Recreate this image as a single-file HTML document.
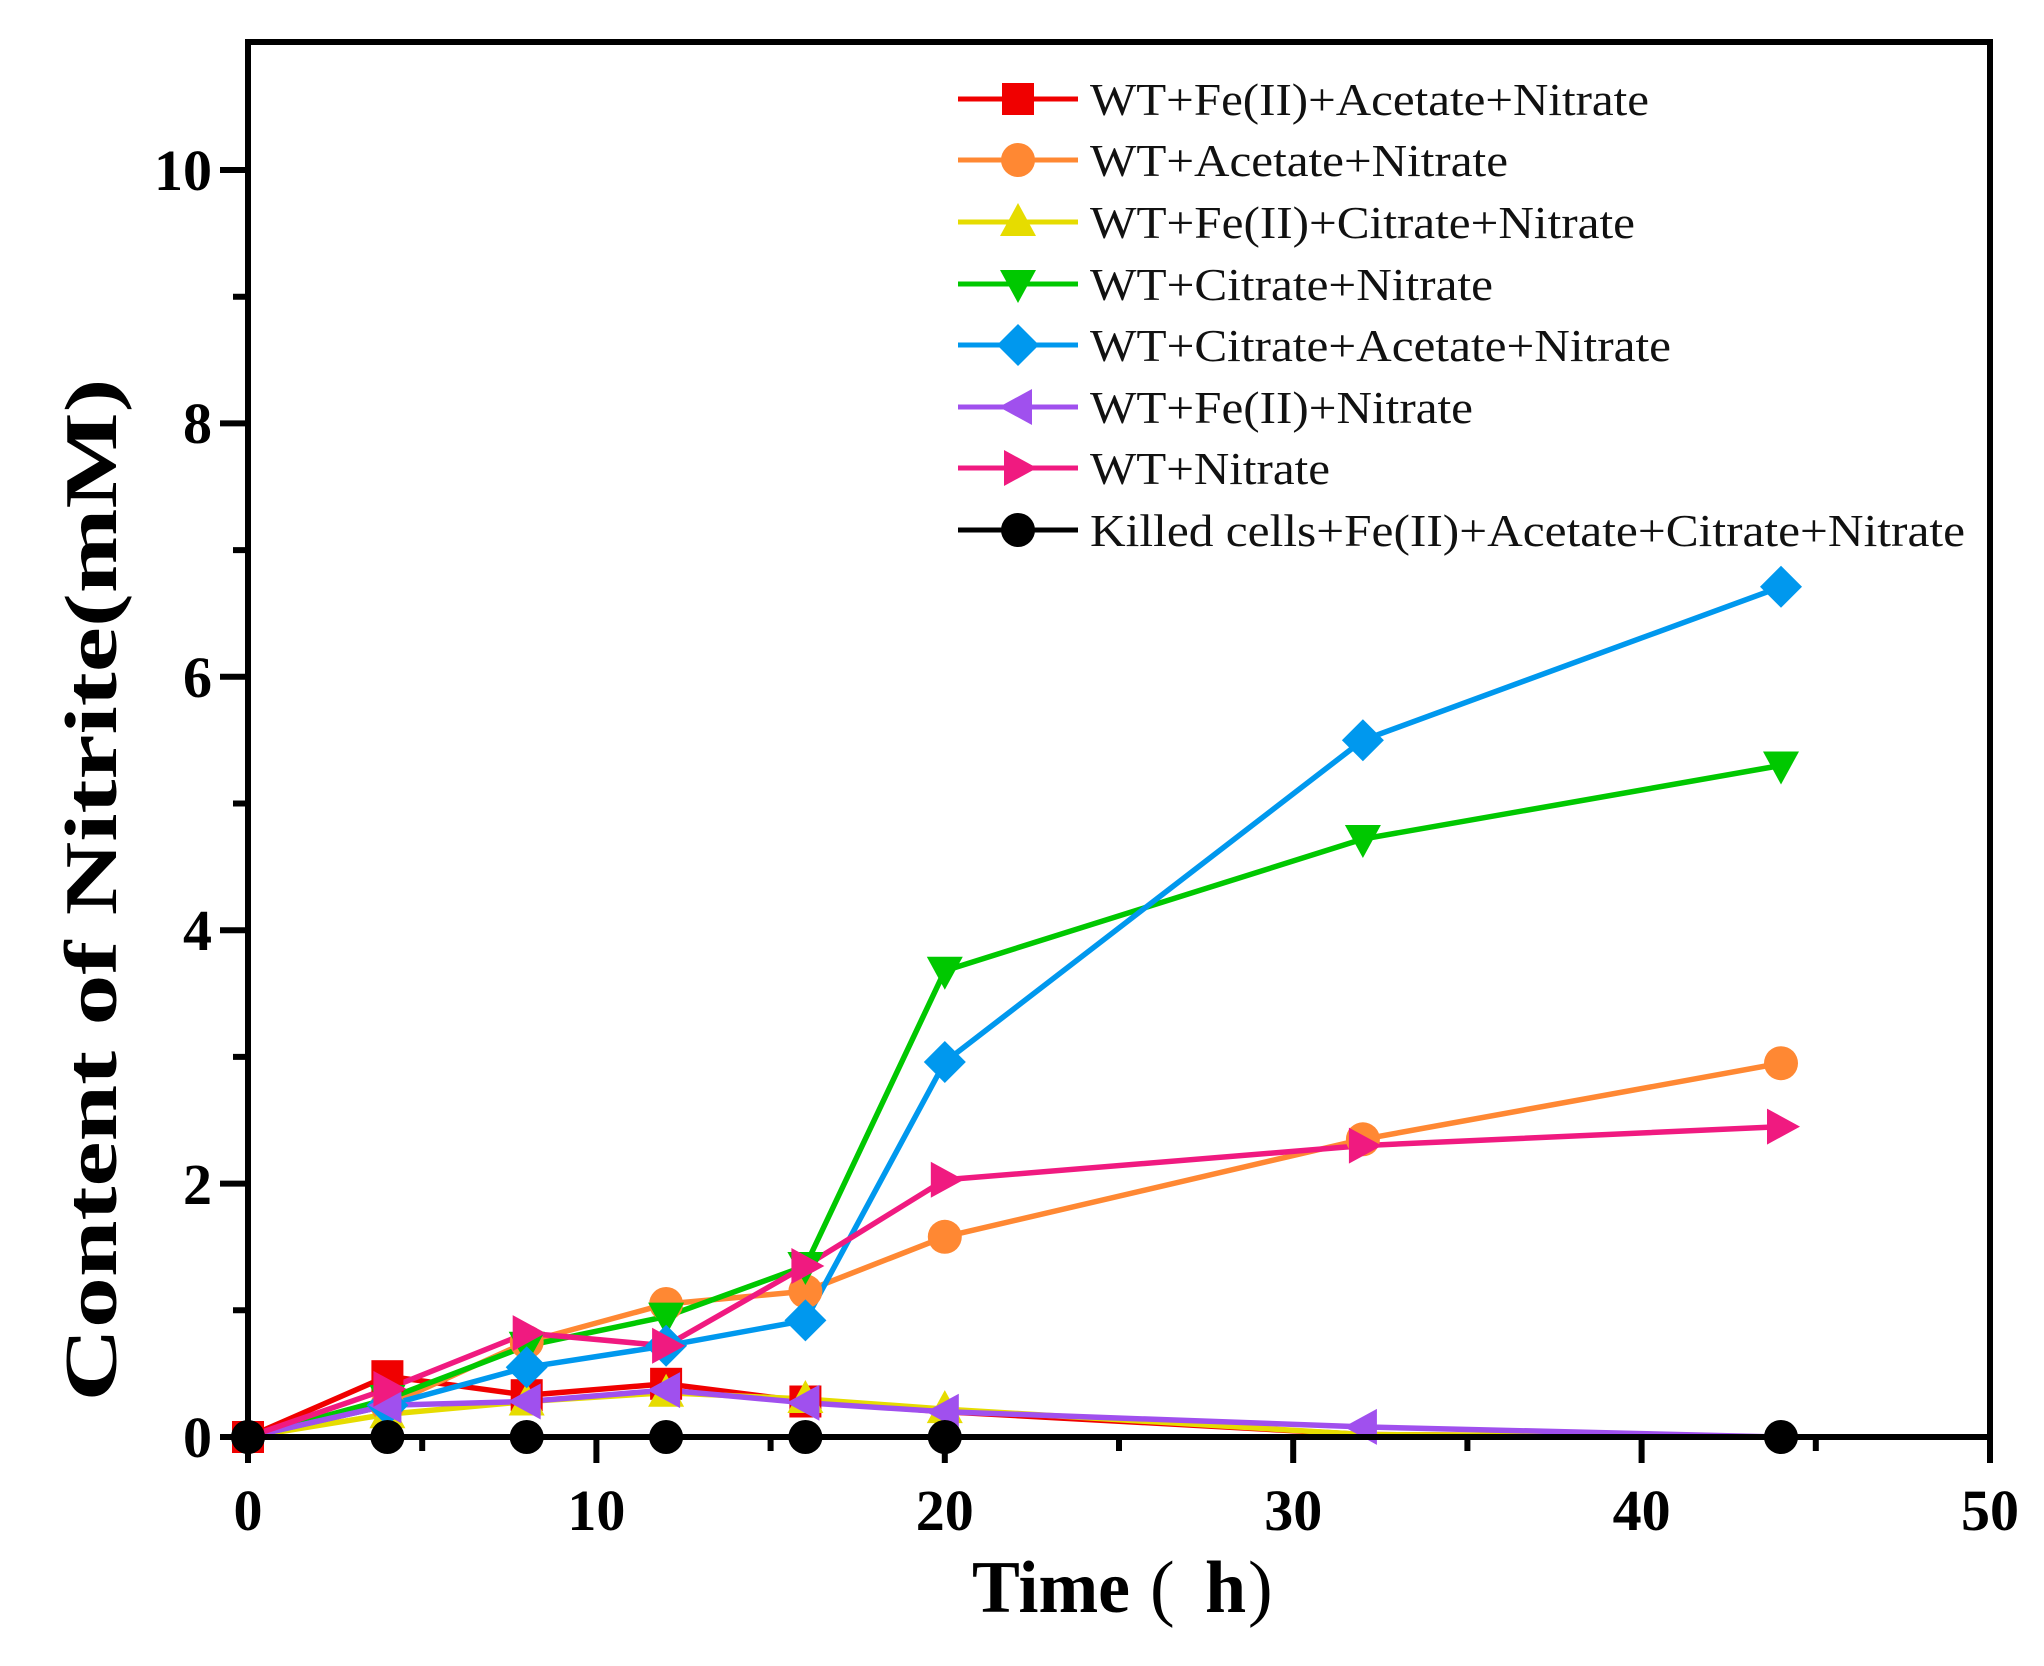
<!DOCTYPE html>
<html><head><meta charset="utf-8"><style>html,body{margin:0;padding:0;background:#fff}svg{display:block}</style></head>
<body>
<svg width="2044" height="1666" viewBox="0 0 2044 1666" xmlns="http://www.w3.org/2000/svg" font-family="'Liberation Serif', serif">
<defs>
<rect id="sq" x="-16" y="-16" width="32" height="32"/>
<circle id="ci" r="17"/>
<polygon id="tu" points="0,-19 18,14 -18,14"/>
<polygon id="td" points="0,19 18,-14 -18,-14"/>
<polygon id="di" points="0,-21 21,0 0,21 -21,0"/>
<polygon id="tl" points="-19,0 14,-18 14,18"/>
<polygon id="tr" points="19,0 -14,-18 -14,18"/>
</defs>
<g fill="none" stroke-width="5.5" stroke-linejoin="round">
<polyline stroke="#f00000" points="248,1437 387.4,1376.2 526.7,1395.2 666.1,1383.8 805.4,1401.5 944.8,1411.7 1362.9,1434.5 1781,1437"/>
<polyline stroke="#ff8833" points="248,1437 387.4,1405.3 526.7,1342 666.1,1304 805.4,1291.3 944.8,1236.8 1362.9,1139.3 1781,1063.2"/>
<polyline stroke="#e6dc00" points="248,1437 387.4,1414.2 526.7,1401.5 666.1,1392.7 805.4,1399 944.8,1409.1 1362.9,1434.5 1781,1437"/>
<polyline stroke="#00c800" points="248,1437 387.4,1399 526.7,1345.8 666.1,1316.6 805.4,1266 944.8,970.7 1362.9,839 1781,765.5"/>
<polyline stroke="#0098ee" points="248,1437 387.4,1405.3 526.7,1367.3 666.1,1345.8 805.4,1320.4 944.8,1062 1362.9,740.2 1781,586.8"/>
<polyline stroke="#a050ee" points="248,1437 387.4,1405.3 526.7,1401.5 666.1,1390.1 805.4,1402.8 944.8,1411.7 1362.9,1426.9 1781,1437"/>
<polyline stroke="#f01a80" points="248,1437 387.4,1388.9 526.7,1333.1 666.1,1345.8 805.4,1266 944.8,1179.8 1362.9,1145.6 1781,1126.6"/>
</g>
<g fill="#f00000"><use href="#sq" x="248" y="1437"/><use href="#sq" x="387.4" y="1376.2"/><use href="#sq" x="526.7" y="1395.2"/><use href="#sq" x="666.1" y="1383.8"/><use href="#sq" x="805.4" y="1401.5"/></g>
<g fill="#ff8833"><use href="#ci" x="387.4" y="1405.3"/><use href="#ci" x="526.7" y="1342"/><use href="#ci" x="666.1" y="1304"/><use href="#ci" x="805.4" y="1291.3"/><use href="#ci" x="944.8" y="1236.8"/><use href="#ci" x="1362.9" y="1139.3"/><use href="#ci" x="1781" y="1063.2"/></g>
<g fill="#e6dc00"><use href="#tu" x="387.4" y="1414.2"/><use href="#tu" x="526.7" y="1401.5"/><use href="#tu" x="666.1" y="1392.7"/><use href="#tu" x="805.4" y="1399"/><use href="#tu" x="944.8" y="1409.1"/></g>
<g fill="#00c800"><use href="#td" x="387.4" y="1399"/><use href="#td" x="526.7" y="1345.8"/><use href="#td" x="666.1" y="1316.6"/><use href="#td" x="805.4" y="1266"/><use href="#td" x="944.8" y="970.7"/><use href="#td" x="1362.9" y="839"/><use href="#td" x="1781" y="765.5"/></g>
<g fill="#0098ee"><use href="#di" x="387.4" y="1405.3"/><use href="#di" x="526.7" y="1367.3"/><use href="#di" x="666.1" y="1345.8"/><use href="#di" x="805.4" y="1320.4"/><use href="#di" x="944.8" y="1062"/><use href="#di" x="1362.9" y="740.2"/><use href="#di" x="1781" y="586.8"/></g>
<g fill="#a050ee"><use href="#tl" x="387.4" y="1405.3"/><use href="#tl" x="526.7" y="1401.5"/><use href="#tl" x="666.1" y="1390.1"/><use href="#tl" x="805.4" y="1402.8"/><use href="#tl" x="944.8" y="1411.7"/><use href="#tl" x="1362.9" y="1426.9"/></g>
<g fill="#f01a80"><use href="#tr" x="387.4" y="1388.9"/><use href="#tr" x="526.7" y="1333.1"/><use href="#tr" x="666.1" y="1345.8"/><use href="#tr" x="805.4" y="1266"/><use href="#tr" x="944.8" y="1179.8"/><use href="#tr" x="1362.9" y="1145.6"/><use href="#tr" x="1781" y="1126.6"/></g>
<g fill="#000"><use href="#ci" x="248" y="1437"/><use href="#ci" x="387.4" y="1437"/><use href="#ci" x="526.7" y="1437"/><use href="#ci" x="666.1" y="1437"/><use href="#ci" x="805.4" y="1437"/><use href="#ci" x="944.8" y="1437"/><use href="#ci" x="1781" y="1437"/></g>
<g stroke="#000" stroke-width="6" fill="none">
<rect x="248" y="42" width="1742" height="1395"/>
<path d="M248,1437v26 M596.4,1437v26 M944.8,1437v26 M1293.2,1437v26 M1641.6,1437v26 M1990,1437v26 M422.2,1437v14 M770.6,1437v14 M1119,1437v14 M1467.4,1437v14 M1815.8,1437v14"/>
<path d="M248,1437h-28 M248,1183.6h-28 M248,930.2h-28 M248,676.8h-28 M248,423.4h-28 M248,170h-28 M248,1310.3h-15 M248,1056.9h-15 M248,803.5h-15 M248,550.1h-15 M248,296.7h-15"/>
</g>
<g font-weight="bold" font-size="58" fill="#000">
<g text-anchor="end"><text x="212" y="1457">0</text><text x="212" y="1204">2</text><text x="212" y="950">4</text><text x="212" y="697">6</text><text x="212" y="443">8</text><text x="212" y="190">10</text></g>
<g text-anchor="middle"><text x="248" y="1530">0</text><text x="596.4" y="1530">10</text><text x="944.8" y="1530">20</text><text x="1293.2" y="1530">30</text><text x="1641.6" y="1530">40</text><text x="1990" y="1530">50</text></g>
<text x="972" y="1612" font-size="74" textLength="158" lengthAdjust="spacingAndGlyphs">Time</text>
<text x="1150" y="1612" font-size="74" font-weight="normal">(</text>
<text x="1205" y="1612" font-size="74">h</text>
<text x="1248" y="1612" font-size="74" font-weight="normal">)</text>
<text transform="translate(116,890) rotate(-90)" text-anchor="middle" font-size="74" textLength="1023" lengthAdjust="spacingAndGlyphs">Content of Nitrite(mM)</text>
</g>
<g stroke-width="5">
<line x1="958" x2="1078" y1="99" y2="99" stroke="#f00000"/>
<line x1="958" x2="1078" y1="160" y2="160" stroke="#ff8833"/>
<line x1="958" x2="1078" y1="222" y2="222" stroke="#e6dc00"/>
<line x1="958" x2="1078" y1="284" y2="284" stroke="#00c800"/>
<line x1="958" x2="1078" y1="345" y2="345" stroke="#0098ee"/>
<line x1="958" x2="1078" y1="407" y2="407" stroke="#a050ee"/>
<line x1="958" x2="1078" y1="468" y2="468" stroke="#f01a80"/>
<line x1="958" x2="1078" y1="530" y2="530" stroke="#000"/>
</g>
<use href="#sq" x="1018" y="99" fill="#f00000"/>
<use href="#ci" x="1018" y="160" fill="#ff8833"/>
<use href="#tu" x="1018" y="222" fill="#e6dc00"/>
<use href="#td" x="1018" y="284" fill="#00c800"/>
<use href="#di" x="1018" y="345" fill="#0098ee"/>
<use href="#tl" x="1018" y="407" fill="#a050ee"/>
<use href="#tr" x="1018" y="468" fill="#f01a80"/>
<use href="#ci" x="1018" y="530" fill="#000"/>
<g font-size="46" fill="#111" lengthAdjust="spacingAndGlyphs">
<text x="1090" y="115" textLength="559" lengthAdjust="spacingAndGlyphs">WT+Fe(II)+Acetate+Nitrate</text>
<text x="1090" y="176" textLength="418" lengthAdjust="spacingAndGlyphs">WT+Acetate+Nitrate</text>
<text x="1090" y="238" textLength="545" lengthAdjust="spacingAndGlyphs">WT+Fe(II)+Citrate+Nitrate</text>
<text x="1090" y="300" textLength="403" lengthAdjust="spacingAndGlyphs">WT+Citrate+Nitrate</text>
<text x="1090" y="361" textLength="581" lengthAdjust="spacingAndGlyphs">WT+Citrate+Acetate+Nitrate</text>
<text x="1090" y="423" textLength="383" lengthAdjust="spacingAndGlyphs">WT+Fe(II)+Nitrate</text>
<text x="1090" y="484" textLength="240" lengthAdjust="spacingAndGlyphs">WT+Nitrate</text>
<text x="1090" y="546" textLength="875" lengthAdjust="spacingAndGlyphs">Killed cells+Fe(II)+Acetate+Citrate+Nitrate</text>
</g>
</svg>
</body></html>
